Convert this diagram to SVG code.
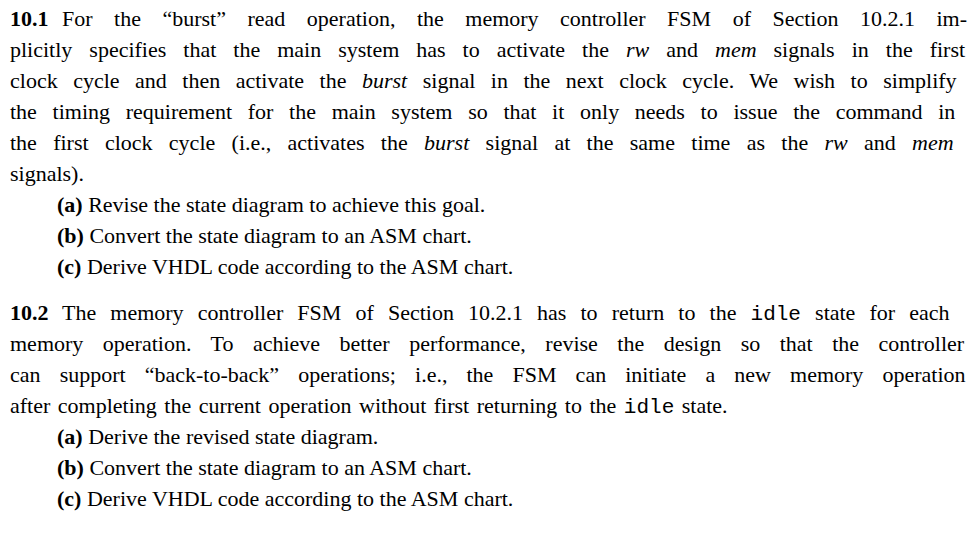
<svg xmlns="http://www.w3.org/2000/svg" width="978" height="560" viewBox="0 0 978 560">
<style>
text{font-family:"Liberation Serif","Times New Roman",serif;font-size:22px;fill:#000}
.b{font-weight:bold}.i{font-style:italic}.m{font-family:"Liberation Mono","Courier New",monospace;font-size:21px}
</style>
<rect width="978" height="560" fill="#fff"/>
<g id="p1">
<text x="10" y="26"><tspan class="b">10.1</tspan><tspan x="62" word-spacing="16">For the “burst” read operation, the memory controller FSM of Section 10.2.1 im-</tspan></text>
<text x="10" y="57" word-spacing="11.5">plicitly specifies that the main system has to activate the <tspan class="i">rw</tspan> and <tspan class="i">mem</tspan> signals in the first</text>
<text x="10" y="88" word-spacing="10">clock cycle and then activate the <tspan class="i">burst</tspan> signal in the next clock cycle. We wish to simplify</text>
<text x="10" y="119" word-spacing="10.2">the timing requirement for the main system so that it only needs to issue the command in</text>
<text x="10" y="150" word-spacing="10.8">the first clock cycle (i.e., activates the <tspan class="i">burst</tspan> signal at the same time as the <tspan class="i">rw</tspan> and <tspan class="i">mem</tspan></text>
<text x="10" y="181">signals).</text>
<text x="57" y="212"><tspan class="b">(a)</tspan> Revise the state diagram to achieve this goal.</text>
<text x="57" y="243"><tspan class="b">(b)</tspan> Convert the state diagram to an ASM chart.</text>
<text x="57" y="274"><tspan class="b">(c)</tspan> Derive VHDL code according to the ASM chart.</text>
</g>
<g id="p2">
<text x="10" y="320" word-spacing="8.6"><tspan class="b">10.2</tspan><tspan x="62">The memory controller FSM of Section 10.2.1 has to return to the </tspan><tspan class="m">idle</tspan> state for each</text>
<text x="10" y="351" word-spacing="14">memory operation. To achieve better performance, revise the design so that the controller</text>
<text x="10" y="382" word-spacing="13.6">can support “back-to-back” operations; i.e., the FSM can initiate a new memory operation</text>
<text x="10" y="413" word-spacing="2">after completing the current operation without first returning to the <tspan class="m">idle</tspan> state.</text>
<text x="57" y="444"><tspan class="b">(a)</tspan> Derive the revised state diagram.</text>
<text x="57" y="475"><tspan class="b">(b)</tspan> Convert the state diagram to an ASM chart.</text>
<text x="57" y="506"><tspan class="b">(c)</tspan> Derive VHDL code according to the ASM chart.</text>
</g>
</svg>
